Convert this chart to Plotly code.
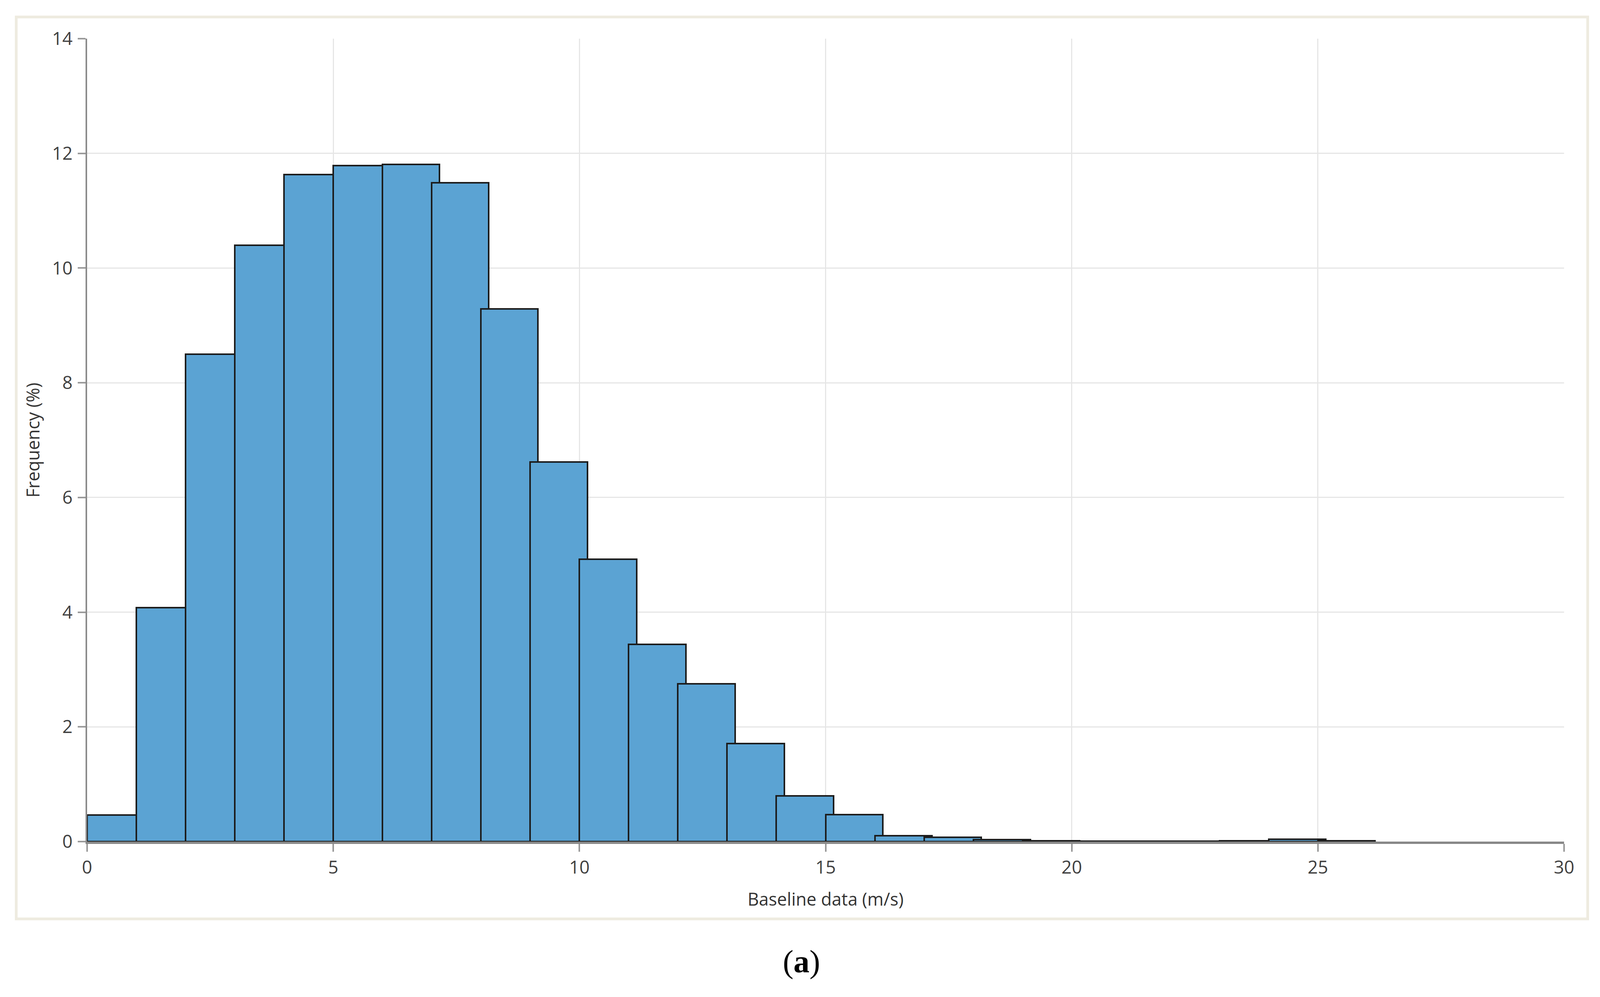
import plotly.graph_objects as go

# histogram of baseline wind speed, 1 m/s bins starting at 0
bin_start = list(range(26))
freq_pct = [0.46, 4.08, 8.50, 10.40, 11.63, 11.79, 11.81, 11.49, 9.29, 6.62,
            4.92, 3.44, 2.75, 1.71, 0.80, 0.47, 0.10, 0.076, 0.034, 0.012,
            0.006, 0.006, 0.006, 0.012, 0.038, 0.012]

x_ticks = [0, 5, 10, 15, 20, 25, 30]
y_ticks = [0, 2, 4, 6, 8, 10, 12, 14]

# page body has an 8px margin, so the figure is 16px smaller than the window
PAD = 8
W, H = 4110 - 2 * PAD, 2553 - 2 * PAD
ML, MT = 223 - PAD, 99 - PAD
MR = W - (4004 - PAD)
MB = H - (2155 - PAD)


def px_x(p):
    # window pixel -> paper x
    return (p - PAD - ML) / (W - ML - MR)


def px_y(p):
    # window pixel -> paper y
    return (H - MB - (p - PAD)) / (H - MT - MB)


fig = go.Figure()
fig.add_trace(go.Bar(
    x=bin_start, y=freq_pct,
    offset=0, width=1.16,
    marker=dict(color="#5ba3d3", line=dict(color="#1c1c1c", width=4)),
    showlegend=False,
))

axis_font = dict(family="Open Sans", size=46, color="#404040")
title_font = dict(family="Open Sans", size=45, color="#333333")

fig.update_xaxes(
    range=[0, 30], tickvals=x_ticks, ticktext=[str(v) for v in x_ticks],
    showgrid=True, gridcolor="#e6e6e6", gridwidth=3, zeroline=False,
    showline=True, linecolor="#888888", linewidth=6,
    ticks="outside", ticklen=20, tickwidth=4, tickcolor="#9a9a9a",
    tickfont=axis_font, ticklabelstandoff=1,
    title=dict(text="Baseline data (m/s)", font=title_font, standoff=40),
)
fig.update_yaxes(
    range=[0, 14], tickvals=y_ticks, ticktext=[str(v) for v in y_ticks],
    showgrid=True, gridcolor="#e6e6e6", gridwidth=3, zeroline=False,
    showline=True, linecolor="#8a8a8a", linewidth=4,
    ticks="outside", ticklen=20, tickwidth=4, tickcolor="#9a9a9a",
    tickfont=axis_font, ticklabelstandoff=4,
    title=dict(text="Frequency (%)", font=title_font, standoff=18),
)

# beige frame around the chart
fig.add_shape(type="rect", xref="paper", yref="paper",
              x0=px_x(41.5), x1=px_x(4064.5), y0=px_y(2353), y1=px_y(43.5),
              line=dict(color="#eeebe0", width=7), layer="below")

# sub-figure label
fig.add_annotation(text="(<b>a</b>)", xref="paper", yref="paper",
                   x=px_x(2052), y=px_y(2462), showarrow=False,
                   xanchor="center", yanchor="middle",
                   font=dict(family="Liberation Serif", size=82, color="#000000"))

fig.update_layout(
    width=W, height=H,
    margin=dict(l=ML, r=MR, t=MT, b=MB, autoexpand=False),
    paper_bgcolor="white", plot_bgcolor="white",
    bargap=0,
)

fig.write_html("out.html")
